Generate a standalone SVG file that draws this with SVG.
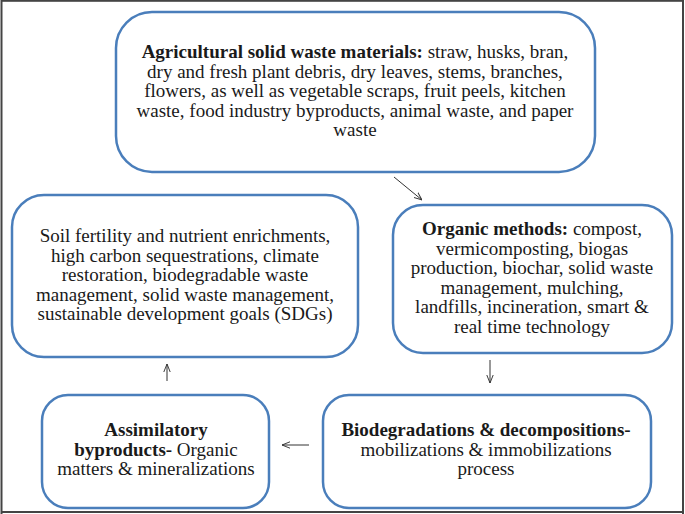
<svg xmlns="http://www.w3.org/2000/svg" width="685" height="514" viewBox="0 0 685 514">
<defs>
<style>
.box{fill:#fff;stroke:#4a7ebb;stroke-width:2.5}
.t{font-family:"Liberation Serif","Times New Roman",serif;font-size:19px;fill:#1a1a1a;text-anchor:middle}
.b{font-weight:bold}
.c{stroke:#333;stroke-width:1;fill:none}
</style>
<marker id="ah" viewBox="0 0 10 10" refX="10" refY="5" markerWidth="8" markerHeight="8" orient="auto" markerUnits="userSpaceOnUse">
<polyline points="0,1 10,5 0,9" fill="none" stroke="#333" stroke-width="1.2"/>
</marker>
</defs>
<rect x="0" y="0" width="685" height="514" fill="#fff"/>
<rect x="1.5" y="0.8" width="681.5" height="711" fill="none" stroke="#444" stroke-width="2"/>
<line x1="1" y1="512" x2="684" y2="512" stroke="#444" stroke-width="2"/>
<g id="n1">
<rect class="box" x="116" y="12" width="479" height="160" rx="36"/>
<text class="t" x="355" y="58"><tspan class="b">Agricultural solid waste materials:</tspan> straw, husks, bran,</text>
<text class="t" x="355" y="77.5">dry and fresh plant debris, dry leaves, stems, branches,</text>
<text class="t" x="355" y="97">flowers, as well as vegetable scraps, fruit peels, kitchen</text>
<text class="t" x="355" y="116.5">waste, food industry byproducts, animal waste, and paper</text>
<text class="t" x="355" y="136">waste</text>
</g>
<g id="n2">
<rect class="box" x="393" y="205" width="279" height="148" rx="30"/>
<text class="t" x="532" y="235"><tspan class="b">Organic methods:</tspan> compost,</text>
<text class="t" x="532" y="254.5">vermicomposting, biogas</text>
<text class="t" x="532" y="274">production, biochar, solid waste</text>
<text class="t" x="532" y="293.5">management, mulching,</text>
<text class="t" x="532" y="313">landfills, incineration, smart &amp;</text>
<text class="t" x="532" y="332.5">real time technology</text>
</g>
<g id="n3">
<rect class="box" x="12" y="195" width="346" height="162" rx="32"/>
<text class="t" x="185" y="242">Soil fertility and nutrient enrichments,</text>
<text class="t" x="185" y="261.5">high carbon sequestrations, climate</text>
<text class="t" x="185" y="281">restoration, biodegradable waste</text>
<text class="t" x="185" y="300.5">management, solid waste management,</text>
<text class="t" x="185" y="320">sustainable development goals (SDGs)</text>
</g>
<g id="n4">
<rect class="box" x="42" y="395" width="227" height="113" rx="26"/>
<text class="t b" x="156" y="436">Assimilatory</text>
<text class="t" x="156" y="455.5"><tspan class="b">byproducts-</tspan> Organic</text>
<text class="t" x="156" y="475">matters &amp; mineralizations</text>
</g>
<g id="n5">
<rect class="box" x="323" y="395" width="328" height="113" rx="26"/>
<text class="t b" x="486" y="436">Biodegradations &amp; decompositions-</text>
<text class="t" x="486" y="455.5">mobilizations &amp; immobilizations</text>
<text class="t" x="486" y="475">process</text>
</g>
<g id="connectors">
<line class="c" x1="394" y1="177" x2="422" y2="200" marker-end="url(#ah)"/>
<line class="c" x1="490" y1="360" x2="490" y2="383" marker-end="url(#ah)"/>
<line class="c" x1="309" y1="445" x2="282" y2="445" marker-end="url(#ah)"/>
<line class="c" x1="167" y1="381" x2="167" y2="364" marker-end="url(#ah)"/>
</g>
</svg>
